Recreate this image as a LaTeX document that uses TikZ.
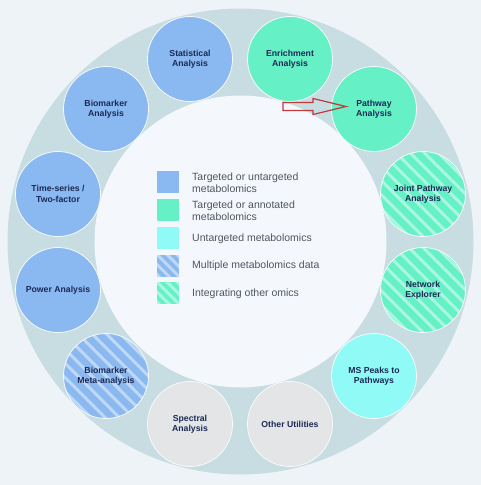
\documentclass[tikz,border=0pt]{standalone}
\usepackage{fontspec}
\setmainfont{Liberation Sans}
\usetikzlibrary{calc}
\definecolor{bgc}{HTML}{EEF3F8}
\definecolor{ringc}{HTML}{C7DDE2}
\definecolor{innerc}{HTML}{F4F7FB}
\definecolor{bluec}{HTML}{8AB8F0}
\definecolor{greenc}{HTML}{66F0C6}
\definecolor{cyanc}{HTML}{8FFAF6}
\definecolor{grayc}{HTML}{E4E5E7}
\definecolor{labelc}{HTML}{1B2A55}
\definecolor{legc}{HTML}{50565E}
\definecolor{arrowred}{HTML}{C0393B}
\tikzset{
  tool/.style={circle, minimum size=85pt, inner sep=0pt, draw=white!85!ringc, line width=0.8pt,
    font=\bfseries\fontsize{8.7}{10.5}\selectfont, text=labelc, align=center},
  stripes/.style={path picture={
    \foreach \k in {-7,...,7}{
      \draw[white, opacity=0.45, line width=3pt]
        ([shift={(\k*#1-60,-\k*#1-60)}]path picture bounding box.center) --
        ([shift={(\k*#1+60,-\k*#1+60)}]path picture bounding box.center);
    }}},
  legbox/.style={minimum size=22pt, inner sep=0pt},
  legtext/.style={anchor=west, align=left, text=legc, font=\fontsize{10.5}{11.7}\selectfont, inner sep=0pt}
}
\begin{document}
\begin{tikzpicture}[x=1pt,y=-1pt]
\useasboundingbox (0,0) rectangle (481,485);
\fill[bgc] (0,0) rectangle (481,485);
\coordinate (C) at (240.5,241.5);
\fill[ringc] (C) circle (233);
\fill[innerc] (C) circle (146);
% tools
\node[tool, fill=bluec] (stat) at (190,59) {Statistical\\Analysis};
\node[tool, fill=greenc] (enrich) at (290,59) {Enrichment\\Analysis};
\node[tool, fill=greenc] (pathway) at (374,109) {Pathway\\Analysis};
\node[tool, fill=greenc, stripes=7.07] (joint) at (423,194) {Joint Pathway\\Analysis};
\node[tool, fill=greenc, stripes=7.07] (network) at (423,290) {Network\\Explorer};
\node[tool, fill=cyanc] (mspeaks) at (374,376) {MS Peaks to\\Pathways};
\node[tool, fill=grayc] (other) at (290,424) {Other Utilities};
\node[tool, fill=grayc] (spectral) at (190,424) {Spectral\\Analysis};
\node[tool, fill=bluec, stripes=7.07] (meta) at (106,376) {Biomarker\\Meta-analysis};
\node[tool, fill=bluec] (power) at (58,290) {Power Analysis};
\node[tool, fill=bluec] (timeseries) at (58,194) {Time-series /\\Two-factor};
\node[tool, fill=bluec] (biomarker) at (106,109) {Biomarker\\Analysis};
% red block arrow
\draw[arrowred, line width=1.2pt, line join=miter]
  (283,102.5) -- (313,102.5) -- (313,98.5) -- (346,106.5) -- (313,114.5) -- (313,110.5) -- (283,110.5) -- cycle;
% legend
\node[legbox, fill=bluec] (l1) at (168,182) {};
\node[legbox, fill=greenc] (l2) at (168,210) {};
\node[legbox, fill=cyanc] (l3) at (168,238) {};
\node[legbox, fill=bluec, stripes=5] (l4) at (168,265.5) {};
\node[legbox, fill=greenc, stripes=5] (l5) at (168,293) {};
\node[legtext] (t1) at (192,183) {Targeted or untargeted\\metabolomics};
\node[legtext] (t2) at (192,211) {Targeted or annotated\\metabolomics};
\node[legtext] (t3) at (192,238.5) {Untargeted metabolomics};
\node[legtext] (t4) at (192,266) {Multiple metabolomics data};
\node[legtext] (t5) at (192,294) {Integrating other omics};
\end{tikzpicture}
\end{document}
